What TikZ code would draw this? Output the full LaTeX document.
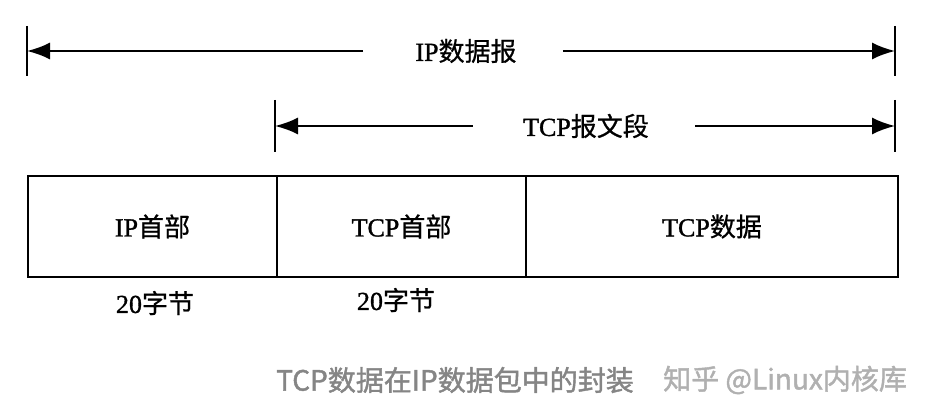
\documentclass[tikz,border=0pt]{standalone}
\usepackage{fontspec}
\setmainfont{Liberation Serif}[RawFeature={embolden=1.2}]
\newfontfamily\cjk{Noto Sans CJK SC}[RawFeature={embolden=0.8}]
\newfontfamily\cjkcap{Noto Sans CJK SC}[RawFeature={embolden=1.5}]
\usetikzlibrary{arrows.meta}
\definecolor{capgray}{HTML}{858585}
\definecolor{wmgray}{HTML}{B0B0B0}
\begin{document}
\begin{tikzpicture}[x=1pt,y=1pt,
  lab/.style={font=\fontsize{26}{30}\selectfont, inner sep=0pt},
  dimline/.style={line width=2pt, -{Latex[length=23pt,width=17pt]}},
  tickline/.style={line width=2pt},
  cell/.style={draw, line width=2pt, minimum height=101pt, anchor=south west,
    inner sep=0pt, font=\fontsize{26}{30}\selectfont},
  captext/.style={font=\cjkcap\fontsize{28}{32}\selectfont, inner sep=0pt}]
\useasboundingbox (0,0) rectangle (928,418);
% top arrow: IP datagram
\coordinate (t1l) at (27,367);
\coordinate (t1r) at (895,367);
\draw[tickline] ([yshift=25pt]t1l) -- ([yshift=-25pt]t1l);
\draw[tickline] ([yshift=25pt]t1r) -- ([yshift=-25pt]t1r);
\node[lab] (ipd) at (466,367) {IP{\cjk 数据报}};
\draw[dimline] ([xshift=-52pt]ipd.west) -- (t1l);
\draw[dimline] ([xshift=46pt]ipd.east) -- (t1r);
% second arrow: TCP segment
\coordinate (t2l) at (275,292);
\coordinate (t2r) at (895,292);
\draw[tickline] ([yshift=26pt]t2l) -- ([yshift=-26pt]t2l);
\draw[tickline] ([yshift=26pt]t2r) -- ([yshift=-26pt]t2r);
\node[lab] (tcps) at (586,292) {TCP{\cjk 报文段}};
\draw[dimline] ([xshift=-50pt]tcps.west) -- (t2l);
\draw[dimline] ([xshift=46pt]tcps.east) -- (t2r);
% boxes
\node[cell, minimum width=249pt] (iph) at (27,140) {IP{\cjk 首部}};
\node[cell, minimum width=249pt] (tcph) at (276,140) {TCP{\cjk 首部}};
\node[cell, minimum width=372pt] (tcpd) at (525,140) {TCP{\cjk 数据}};
% sizes
\node[lab] (ips) at (155,115) {20{\cjk 字节}};
\node[lab] (tcpsz) at (396,118) {20{\cjk 字节}};
% caption
\node[captext, text=capgray, anchor=west] (caption) at (276,38) {TCP数据在IP数据包中的封装};
\node[captext, text=wmgray, anchor=west] (wm) at (663,38) {知乎 @Linux内核库};
\end{tikzpicture}
\end{document}
